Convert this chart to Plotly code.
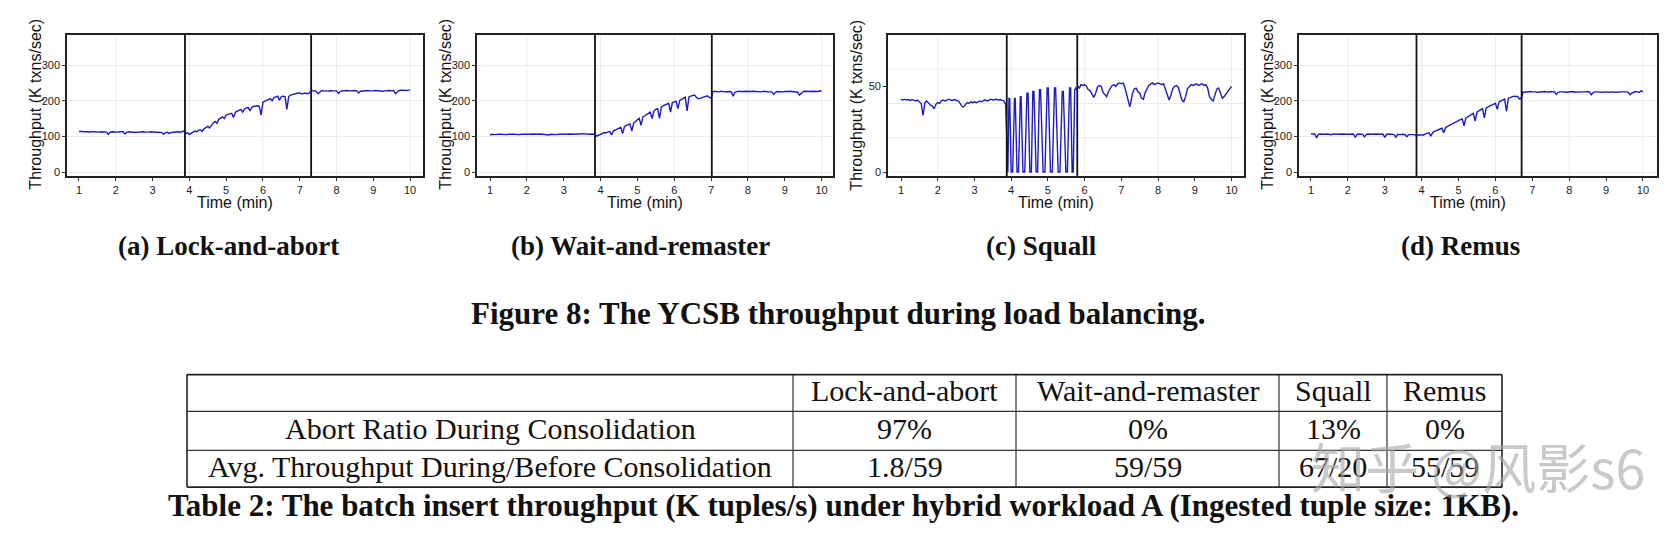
import plotly.graph_objects as go

# The page body has an 8px default margin, so the figure is laid out in page pixels
# and shifted by OFF.
PAGE_W, PAGE_H = 1676, 536
OFF = 8
FW, FH = PAGE_W - 2 * OFF, PAGE_H - 2 * OFF

# ---------------- data ----------------
T = [round(1 + 0.05 * i, 2) for i in range(181)]  # sampling grid (minutes)

lock_abort = [
    114, 115, 114, 113, 114, 113, 112, 114, 113, 112, 113, 112, 113, 112, 113, 112, 106, 112, 113, 112,
    113, 112, 113, 112, 113, 107, 112, 113, 112, 113, 112, 111, 112, 113, 112, 113, 112, 111, 112, 113,
    112, 111, 112, 111, 112, 111, 106, 111, 112, 108, 111, 112, 111, 112, 113, 112, 114, 115, 108, 110,
    106, 110, 112, 115, 113, 118, 119, 114, 122, 125, 128, 124, 133, 138, 142, 137, 148, 152, 155, 150,
    160, 162, 164, 165, 153, 168, 171, 174, 176, 168, 177, 180, 181, 172, 182, 184, 185, 186, 184, 160,
    196, 199, 202, 204, 206, 200, 209, 211, 213, 202, 212, 213, 212, 176, 212, 216, 218, 220, 221, 222,
    222, 219, 221, 222, 220, 221, 228, 229, 228, 226, 220, 225, 229, 228, 229, 228, 227, 229, 228, 229,
    228, 221, 226, 228, 229, 228, 229, 228, 229, 228, 229, 228, 222, 227, 228, 229, 228, 229, 228, 227,
    228, 229, 228, 229, 228, 227, 228, 229, 228, 229, 228, 229, 220, 226, 229, 230, 229, 230, 229, 230,
    230,
]

wait_remaster = [
    104, 106, 105, 106, 105, 106, 106, 105, 106, 105, 106, 105, 106, 106, 105, 106, 105, 106, 107, 106,
    106, 105, 106, 107, 106, 105, 106, 107, 106, 105, 106, 105, 104, 106, 105, 106, 105, 106, 105, 106,
    106, 105, 106, 107, 106, 105, 106, 107, 106, 107, 108, 107, 106, 105, 106, 107, 106, 106, 101, 104,
    106, 109, 111, 110, 113, 114, 104, 116, 118, 120, 123, 126, 108, 128, 131, 133, 135, 115, 138, 142,
    148, 151, 131, 155, 158, 162, 165, 168, 150, 172, 176, 178, 151, 182, 186, 189, 191, 193, 168, 195,
    197, 199, 178, 201, 204, 207, 210, 172, 211, 213, 215, 216, 210, 206, 207, 209, 211, 213, 214, 210,
    207, 226, 227, 226, 225, 226, 227, 225, 226, 226, 226, 225, 213, 224, 226, 227, 226, 225, 226, 227,
    226, 225, 226, 227, 226, 225, 226, 225, 226, 227, 226, 225, 226, 225, 218, 224, 226, 225, 226, 225,
    226, 225, 226, 227, 226, 225, 226, 224, 216, 222, 226, 227, 226, 225, 226, 227, 226, 225, 226, 228,
    227,
]

remus = [
    107, 106, 107, 96, 106, 107, 106, 107, 106, 107, 106, 105, 107, 106, 107, 106, 107, 106, 107, 106,
    106, 107, 106, 107, 97, 106, 107, 106, 106, 99, 106, 107, 106, 105, 106, 107, 106, 105, 106, 107,
    97, 106, 105, 106, 106, 105, 98, 106, 105, 106, 106, 105, 99, 105, 106, 105, 105, 103, 104, 104,
    105, 104, 107, 109, 110, 101, 111, 114, 116, 118, 120, 123, 110, 125, 128, 131, 133, 137, 139, 141,
    144, 147, 149, 130, 152, 155, 158, 162, 165, 143, 168, 172, 176, 178, 152, 180, 183, 186, 188, 190,
    193, 176, 197, 200, 202, 205, 170, 207, 209, 211, 213, 212, 212, 205, 208, 224, 225, 224, 225, 226,
    225, 226, 225, 224, 225, 226, 225, 226, 225, 224, 226, 225, 225, 218, 224, 225, 226, 225, 224, 225,
    226, 225, 226, 224, 225, 226, 225, 225, 224, 225, 226, 225, 217, 223, 225, 226, 225, 224, 225, 226,
    225, 224, 225, 226, 225, 224, 225, 226, 225, 225, 226, 225, 224, 217, 222, 225, 226, 225, 224, 228,
    226,
]

# Squall: before migration (on grid T, 1.00 .. 3.85)
squall_pre = [
    42.5, 42, 42.5, 42, 42.3, 41.8, 42.2, 42, 41.5, 42, 41, 40, 33, 40.5, 41.5, 40, 39, 38.5, 37, 39.5,
    40.5, 40, 41.5, 42, 41.5, 42, 42.5, 42, 41.8, 42.3, 42, 41.5, 40.5, 38.5, 38, 39, 40.5, 40, 41, 40.5,
    41, 40.5, 41, 41.5, 41, 41.8, 42, 41.5, 42, 42.5, 42, 42.3, 42.5, 42, 42.3, 41.8, 41.5, 39.5,
]
# Squall: during migration (oscillating)
squall_osc_t = [3.89, 3.91, 3.94, 3.96, 4.00, 4.04, 4.09, 4.11, 4.16, 4.20, 4.25, 4.27, 4.32, 4.37,
                4.43, 4.46, 4.51, 4.55, 4.59, 4.62, 4.68, 4.72, 4.77, 4.80, 4.87, 4.92, 4.98, 5.01,
                5.07, 5.12, 5.18, 5.21, 5.28, 5.33, 5.39, 5.42, 5.49, 5.53, 5.59, 5.62, 5.66, 5.69,
                5.73, 5.76, 5.79]
squall_osc_v = [0, 0, 43, 43, 0, 0, 43, 43, 0, 0, 44, 44, 0, 0,
                46, 46, 0, 0, 47, 47, 0, 0, 48, 48, 0, 0, 49, 49,
                0, 0, 49, 49, 0, 0, 47, 47, 0, 0, 49, 49, 0, 0,
                48, 49, 48]
# Squall: after migration
squall_post_t = [5.82, 5.86, 5.90, 5.95, 6.00, 6.05, 6.10, 6.15, 6.20, 6.25, 6.30, 6.35, 6.40, 6.45,
                 6.50, 6.55, 6.60, 6.65, 6.70, 6.75, 6.80, 6.85, 6.90, 6.95, 7.00, 7.05, 7.10, 7.15,
                 7.20, 7.23, 7.27, 7.30, 7.35, 7.40, 7.45, 7.50, 7.55, 7.60, 7.65, 7.70, 7.75, 7.80,
                 7.85, 7.90, 7.95, 8.00, 8.05, 8.10, 8.15, 8.20, 8.25, 8.30, 8.35, 8.40, 8.45, 8.50,
                 8.55, 8.60, 8.65, 8.70, 8.75, 8.80, 8.85, 8.90, 8.95, 9.00, 9.05, 9.10, 9.15, 9.20,
                 9.25, 9.30, 9.35, 9.40, 9.45, 9.50, 9.55, 9.60, 9.65, 9.70, 9.75, 9.80, 9.85, 9.90,
                 9.95, 10.00]
squall_post_v = [50, 49, 51, 50.5, 51, 50, 48, 47.5, 45, 43.5, 46, 49.5, 50.5, 50,
                 46.5, 45, 44, 47, 49, 50.5, 51, 50, 51.5, 52, 51.5, 52, 49, 45,
                 40, 38, 42, 45.5, 48.5, 49, 47, 46, 43, 42.5, 46.5, 49, 50.5, 51.5,
                 52, 51, 51.5, 52, 51.5, 51, 51.5, 48, 44, 42, 45, 48.5, 50, 50.5,
                 49.5, 45, 42, 41, 44, 48.5, 50, 51, 50.5, 51, 51.5, 50.5, 51, 51.5,
                 50.5, 51, 49, 44, 42.5, 41.5, 45, 48.5, 49, 46, 43, 44, 45.5, 47,
                 49, 50]

squall_t = T[:58] + squall_osc_t + squall_post_t
squall = squall_pre + squall_osc_v + squall_post_v

# phase boundaries (minutes)
lock_abort_marks = [3.88, 7.31]
wait_remaster_marks = [3.85, 7.02]
squall_marks = [3.88, 5.80]
remus_marks = [3.86, 6.71]

x_ticks = [1, 2, 3, 4, 5, 6, 7, 8, 9, 10]
x_grid = [2, 4, 6, 8, 10]
y_ticks_big = [0, 100, 200, 300]
y_ticks_squall = [0, 50]
y_grid_squall = [0, 20, 40, 60]

captions = ["(a) Lock-and-abort", "(b) Wait-and-remaster", "(c) Squall", "(d) Remus"]
fig_caption = "Figure 8: The YCSB throughput during load balancing."

tbl_header = ["", "Lock-and-abort", "Wait-and-remaster", "Squall", "Remus"]
tbl_rows = ["Abort Ratio During Consolidation", "Avg. Throughput During/Before Consolidation"]
tbl_lock = ["97%", "1.8/59"]
tbl_wait = ["0%", "59/59"]
tbl_squall = ["13%", "67/20"]
tbl_remus = ["0%", "55/59"]
tbl_caption = ("Table 2: The batch insert throughput (K tuples/s) under hybrid workload A "
               "(Ingested tuple size: 1KB).")
watermark = "知乎 @风影s6"

# ---------------- layout geometry (page pixels) ----------------
panels = [
    dict(t=T, v=lock_abort, marks=lock_abort_marks, px=(67, 423), xr=[0.674, 10.35],
         yr=[-12, 385], yt=y_ticks_big, cap_x=228),
    dict(t=T, v=wait_remaster, marks=wait_remaster_marks, px=(477, 833), xr=[0.647, 10.31],
         yr=[-12, 385], yt=y_ticks_big, cap_x=640),
    dict(t=squall_t, v=squall, marks=squall_marks, px=(888, 1244), xr=[0.646, 10.34],
         yr=[-2.5, 80], yt=y_ticks_squall, cap_x=1041),
    dict(t=T, v=remus, marks=remus_marks, px=(1299, 1657), xr=[0.675, 10.38],
         yr=[-12, 385], yt=y_ticks_big, cap_x=1460),
]
PT, PB = 35, 177
TBL_COLS = [187, 793, 1016, 1279, 1387, 1502]
TBL_ROWS = [376, 413, 452, 489]
TBL_TEXT_Y = [392, 430, 468]


def fx(p):
    return (p - OFF) / FW


def fy(p):
    return 1 - (p - OFF) / FH


fig = go.Figure()
layout = dict(
    width=FW, height=FH, margin=dict(l=0, r=0, t=0, b=0),
    paper_bgcolor="white", plot_bgcolor="white", showlegend=False,
)
shapes = []
annotations = []
sans = "Liberation Sans, Arial, sans-serif"
serif = "Liberation Serif, Times New Roman, serif"
tick_font = dict(family=sans, size=11, color="#1a1a1a")
title_font = dict(family=sans, size=16, color="#111111")

for i, p in enumerate(panels):
    s = "" if i == 0 else str(i + 1)
    fig.add_trace(go.Scatter(
        x=p["t"], y=p["v"], mode="lines", xaxis="x" + s, yaxis="y" + s,
        line=dict(color="#1c1cc0", width=1.4), hoverinfo="skip"))
    layout["xaxis" + s] = dict(
        domain=[fx(p["px"][0]), fx(p["px"][1])], range=p["xr"], anchor="y" + s,
        tickmode="array", tickvals=x_ticks, ticks="outside", ticklen=3, tickwidth=1,
        tickcolor="#333333", showgrid=False, zeroline=False, showline=True, mirror=True,
        linecolor="#222222", linewidth=1.6, tickfont=tick_font, fixedrange=True)
    big = p["yt"] is y_ticks_big
    layout["yaxis" + s] = dict(
        domain=[fy(PB), fy(PT)], range=p["yr"], anchor="x" + s,
        tickmode="array", tickvals=p["yt"], ticks="outside", ticklen=3, tickwidth=1,
        tickcolor="#333333", showgrid=big, gridcolor="#ebebeb", gridwidth=1,
        zeroline=False, showline=True, mirror=True, linecolor="#222222", linewidth=1.6,
        tickfont=tick_font, fixedrange=True)
    for g in x_grid:
        shapes.append(dict(type="line", xref="x" + s, yref="y" + s + " domain", x0=g, x1=g,
                           y0=0, y1=1, layer="below", line=dict(color="#ebebeb", width=1)))
    if not big:
        for g in y_grid_squall:
            shapes.append(dict(type="line", xref="x" + s + " domain", yref="y" + s, x0=0, x1=1,
                               y0=g, y1=g, layer="below", line=dict(color="#ebebeb", width=1)))
    for m in p["marks"]:
        shapes.append(dict(type="line", xref="x" + s, yref="y" + s + " domain", x0=m, x1=m,
                           y0=0, y1=1, line=dict(color="#111111", width=1.8)))
    annotations.append(dict(text="Throughput (K txns/sec)", textangle=-90, xref="paper",
                            yref="paper", x=fx(p["px"][0] - 31), y=fy(105),
                            showarrow=False, font=title_font, xanchor="center", yanchor="middle"))
    annotations.append(dict(text="Time (min)", xref="paper", yref="paper",
                            x=fx((p["px"][0] + p["px"][1]) / 2 - 10), y=fy(203),
                            showarrow=False, font=title_font, xanchor="center", yanchor="middle"))
    annotations.append(dict(text="<b>" + captions[i] + "</b>", xref="paper", yref="paper",
                            x=fx(p["cap_x"]), y=fy(247), showarrow=False,
                            font=dict(family=serif, size=27, color="#111111"),
                            xanchor="center", yanchor="middle"))

annotations.append(dict(text="<b>" + fig_caption + "</b>", xref="paper", yref="paper",
                        x=fx(838), y=fy(315), showarrow=False,
                        font=dict(family=serif, size=31, color="#111111"),
                        xanchor="center", yanchor="middle"))
annotations.append(dict(text="<b>" + tbl_caption + "</b>", xref="paper", yref="paper",
                        x=fx(843), y=fy(507), showarrow=False,
                        font=dict(family=serif, size=31, color="#111111"),
                        xanchor="center", yanchor="middle"))

# ---------------- table (grid lines + cell texts) ----------------
for k, xc in enumerate(TBL_COLS):
    edge = k in (0, len(TBL_COLS) - 1)
    shapes.append(dict(type="line", xref="paper", yref="paper", x0=fx(xc), x1=fx(xc),
                       y0=fy(TBL_ROWS[0]), y1=fy(TBL_ROWS[-1]),
                       line=dict(color="#222222" if edge else "#333333", width=1.6 if edge else 1.2)))
for k, yr in enumerate(TBL_ROWS):
    edge = k in (0, len(TBL_ROWS) - 1)
    shapes.append(dict(type="line", xref="paper", yref="paper", x0=fx(TBL_COLS[0]),
                       x1=fx(TBL_COLS[-1]), y0=fy(yr), y1=fy(yr),
                       line=dict(color="#222222" if edge else "#333333", width=1.6 if edge else 1.2)))
columns = [tbl_rows, tbl_lock, tbl_wait, tbl_squall, tbl_remus]
cell_font = dict(family=serif, size=30, color="#111111")
for c in range(len(columns)):
    xc = (TBL_COLS[c] + TBL_COLS[c + 1]) / 2
    texts = [tbl_header[c]] + columns[c]
    for r, txt in enumerate(texts):
        if not txt:
            continue
        annotations.append(dict(text=txt, xref="paper", yref="paper", x=fx(xc),
                                y=fy(TBL_TEXT_Y[r]), showarrow=False, font=cell_font,
                                xanchor="center", yanchor="middle"))

annotations.append(dict(text=watermark, xref="paper", yref="paper", x=fx(1478), y=fy(467),
                        showarrow=False,
                        font=dict(family="Noto Sans CJK SC", size=54, color="rgba(165,165,165,0.6)"),
                        xanchor="center", yanchor="middle"))

layout["shapes"] = shapes
layout["annotations"] = annotations
fig.update_layout(**layout)
fig.write_html("out.html")
